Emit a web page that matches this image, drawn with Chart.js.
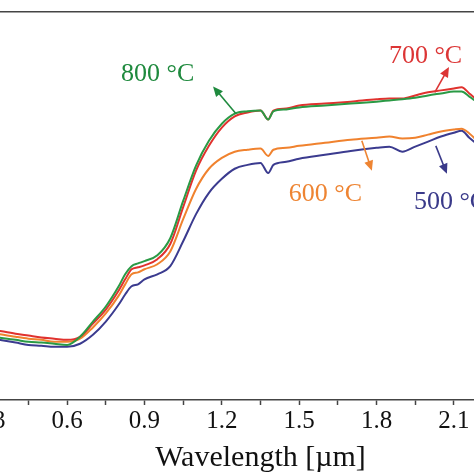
<!DOCTYPE html>
<html>
<head>
<meta charset="utf-8">
<script src="https://cdn.jsdelivr.net/npm/chart.js@4"></script>
<style>
  html, body { margin: 0; padding: 0; background: #fff; overflow: hidden; width: 474px; height: 474px; }
  #wrap { position: absolute; left: -76px; top: 0; width: 673px; height: 476px; }
</style>
</head>
<body>
<div id="wrap"><canvas id="chart"></canvas></div>
<script>
// wavelength in micrometres
const wavelength = [0.33, 0.4, 0.45, 0.5, 0.55, 0.6, 0.65, 0.7, 0.75, 0.8, 0.825, 0.85, 0.875, 0.9, 0.95, 1.0,
  1.05, 1.1, 1.15, 1.2, 1.25, 1.3, 1.35, 1.38, 1.4, 1.45, 1.5, 1.6, 1.7, 1.8, 1.85, 1.9, 1.95, 2.0, 2.05, 2.1,
  2.13, 2.16, 2.2, 2.25];

// reflectance (arbitrary %, left axis is cropped in the source)
const r800 = [16.1, 15.5, 15.0, 14.8, 14.5, 14.2, 16.3, 20.2, 24.1, 29.3, 32.4, 34.5, 35.2, 35.8, 37.3, 41.7,
  51.3, 60.4, 66.8, 71.2, 73.8, 74.4, 74.6, 72.3, 74.4, 74.9, 75.4, 75.9, 76.4, 76.9, 77.2, 77.5, 77.9, 78.5, 79.0, 79.5,
  79.5, 78.2, 76.4, 74.6];
const r700 = [17.9, 17.1, 16.6, 16.1, 15.8, 15.5, 16.3, 19.7, 23.3, 28.2, 31.1, 33.7, 34.2, 34.7, 36.3, 40.2,
  49.7, 59.1, 65.5, 70.2, 73.1, 74.1, 74.6, 72.3, 74.6, 75.1, 75.9, 76.4, 76.9, 77.5, 77.7, 77.7, 78.5, 79.3, 79.8, 80.3,
  80.6, 79.0, 76.9, 75.1];
const r600 = [17.1, 16.3, 15.8, 15.5, 15.0, 15.0, 15.8, 18.7, 22.3, 26.9, 29.8, 32.4, 32.9, 33.7, 35.0, 38.3,
  46.6, 54.4, 59.6, 62.4, 64.0, 64.5, 64.8, 62.9, 64.5, 65.0, 65.5, 66.3, 67.1, 67.6, 67.9, 67.4, 67.6, 68.4, 69.2, 69.7,
  69.9, 68.7, 66.3, 64.2];
const r500 = [15.6, 14.8, 14.2, 14.0, 13.7, 13.7, 14.5, 16.8, 20.2, 24.6, 27.2, 29.3, 29.8, 31.1, 32.4, 34.5,
  40.9, 47.9, 53.4, 57.0, 59.6, 60.6, 61.1, 58.5, 60.6, 61.4, 62.2, 63.2, 64.2, 65.0, 65.3, 64.0, 65.3, 66.6, 67.9, 68.9,
  69.4, 67.6, 65.5, 63.7];

const majorTicks = [0.3, 0.6, 0.9, 1.2, 1.5, 1.8, 2.1, 2.4];
const tickLabels = ['0.3', '0.6', '0.9', '1.2', '1.5', '1.8', '2.1', '2.4'];
const minorTicks = [0.45, 0.75, 1.05, 1.35, 1.65, 1.95, 2.25];

const serif = '"Liberation Serif", "Times New Roman", serif';

// curve labels with arrows (data units)
const notes = [
  { text: '800 °C', color: '#1f8a3e', x: 0.809, y: 82.1, from: [1.255, 73.8], to: [1.166, 80.8] },
  { text: '700 °C', color: '#dc3535', x: 1.848, y: 86.8, from: [2.026, 79.3], to: [2.081, 85.8] },
  { text: '600 °C', color: '#ee8432', x: 1.460, y: 51.3, from: [1.743, 66.8], to: [1.782, 59.1] },
  { text: '500 °C', color: '#3a3a8a', x: 1.945, y: 49.2, from: [2.030, 65.5], to: [2.073, 58.3] }
];

const toPoints = ys => wavelength.map((w, i) => ({ x: w, y: ys[i] }));

const notesPlugin = {
  id: 'notes',
  afterDatasetsDraw(chart) {
    const { ctx, scales: { x, y } } = chart;
    ctx.save();
    notes.forEach(n => {
      const x1 = x.getPixelForValue(n.from[0]), y1 = y.getPixelForValue(n.from[1]);
      const x2 = x.getPixelForValue(n.to[0]), y2 = y.getPixelForValue(n.to[1]);
      const a = Math.atan2(y2 - y1, x2 - x1);
      ctx.strokeStyle = n.color;
      ctx.fillStyle = n.color;
      ctx.lineWidth = 1.6;
      ctx.beginPath();
      ctx.moveTo(x1, y1);
      ctx.lineTo(x2 - 6 * Math.cos(a), y2 - 6 * Math.sin(a));
      ctx.stroke();
      ctx.beginPath();
      ctx.moveTo(x2, y2);
      ctx.lineTo(x2 - 10 * Math.cos(a) + 4.5 * Math.sin(a), y2 - 10 * Math.sin(a) - 4.5 * Math.cos(a));
      ctx.lineTo(x2 - 10 * Math.cos(a) - 4.5 * Math.sin(a), y2 - 10 * Math.sin(a) + 4.5 * Math.cos(a));
      ctx.closePath();
      ctx.fill();
      ctx.font = '26px ' + serif;
      ctx.textAlign = 'left';
      ctx.textBaseline = 'alphabetic';
      ctx.fillText(n.text, x.getPixelForValue(n.x), y.getPixelForValue(n.y));
    });
    ctx.restore();
  }
};

new Chart(document.getElementById('chart'), {
  type: 'line',
  data: {
    datasets: [
      { label: '800 °C', data: toPoints(r800), borderColor: '#2a9a45' },
      { label: '700 °C', data: toPoints(r700), borderColor: '#e0322e' },
      { label: '600 °C', data: toPoints(r600), borderColor: '#f0822e' },
      { label: '500 °C', data: toPoints(r500), borderColor: '#3b3b8f' }
    ]
  },
  options: {
    responsive: true,
    maintainAspectRatio: false,
    animation: false,
    layout: { padding: { left: 40, right: 40, top: 12, bottom: 0 } },
    elements: {
      line: { borderWidth: 2, cubicInterpolationMode: 'monotone', fill: false },
      point: { radius: 0 }
    },
    plugins: { legend: { display: false }, tooltip: { enabled: false } },
    scales: {
      x: {
        type: 'linear',
        min: 0.2,
        max: 2.5,
        afterBuildTicks: s => { s.ticks = majorTicks.concat(minorTicks).sort((a, b) => a - b).map(v => ({ value: v })); },
        ticks: {
          autoSkip: false,
          maxRotation: 0,
          color: '#111',
          padding: 1,
          font: { family: serif, size: 25 },
          callback: v => {
            const i = majorTicks.findIndex(t => Math.abs(t - v) < 1e-6);
            return i >= 0 ? tickLabels[i] : '';
          }
        },
        grid: { drawOnChartArea: false, tickLength: 5, tickColor: '#444', tickWidth: 1.5 },
        border: { color: '#444', width: 1.5 },
        title: { display: true, text: 'Wavelength [µm]', color: '#111', font: { family: serif, size: 30 }, padding: { top: 3, bottom: 0 } }
      },
      x2: {
        type: 'linear',
        position: 'top',
        min: 0.2,
        max: 2.5,
        ticks: { display: false },
        grid: { drawOnChartArea: false, drawTicks: false },
        border: { color: '#444', width: 1.5 }
      },
      y: { display: false, min: 0, max: 100 }
    }
  },
  plugins: [notesPlugin]
});
</script>
</body>
</html>
